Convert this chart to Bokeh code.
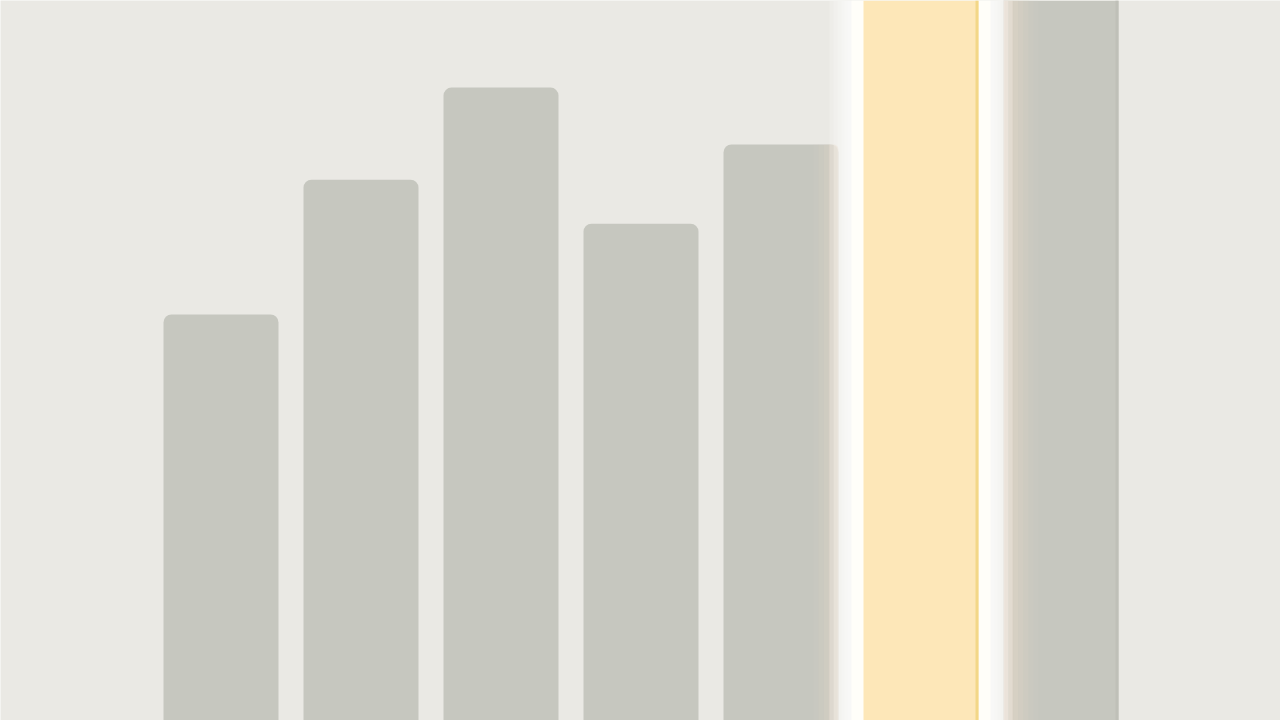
from bokeh.plotting import figure
from bokeh.embed import file_html
from bokeh.resources import INLINE

# Data
categories = ["A", "B", "C", "D", "E", "F", "G"]
values = [56.4, 75.1, 87.9, 69.0, 80.0, 112.0, 108.0]
highlight_index = 5

BG = "#EAE9E4"
BAR = "#C6C7BF"
YELLOW = "#FDE7B8"
YELLOW_EDGE = "#F3D787"
TINT = "#E4D7C7"

W, H = 1280, 720
PX = 1 / 140.0                      # one screen pixel in x data units
x_start = -220.5 * PX
x_end = x_start + W * PX
VPX = 1 / 7.2                       # one screen pixel in y data units
y_start = 0
y_end = H * VPX

p = figure(width=W, height=H, output_backend="svg", toolbar_location=None,
           x_range=(x_start, x_end), y_range=(y_start, y_end),
           min_border=0, background_fill_color=BG, border_fill_color=BG)
p.axis.visible = False
p.grid.visible = False
p.outline_line_color = None

xs = list(range(len(categories)))
bar_w = 115 * PX
radius = 8

# regular bars (short ones rounded, tall ones cut by the top edge)
for i, (x, v) in enumerate(zip(xs, values)):
    if i == highlight_index:
        continue
    r = radius if v < y_end else 0
    p.vbar(x=[x], top=[min(v, y_end + 2)], bottom=0, width=bar_w, fill_color=BAR,
           line_color=None, border_radius=(r, r, 0, 0))

# darker right edge on last bar
last = len(xs) - 1
p.vbar(x=[xs[last] + (57.5 - 1.5) * PX], top=[min(values[last], y_end + 2)], bottom=0,
       width=3 * PX, fill_color="#BFC0B8", line_color=None)

hx = xs[highlight_index]
ln, rn = highlight_index - 1, highlight_index + 1

# warm tint on the left neighbour's right edge
alphas_l = [0.7, 0.5, 0.32, 0.18, 0.08]
for k, a in enumerate(alphas_l):
    cx = xs[ln] + (57.5 - 2.5 - 5 * k) * PX
    p.vbar(x=[cx], top=[values[ln]], bottom=0, width=5 * PX, fill_color=TINT,
           fill_alpha=a, line_color=None,
           border_radius=(0, radius if k == 0 else 0, 0, 0))
# warm tint on the right neighbour's left edge
alphas_r = [0.85, 0.7, 0.55, 0.4, 0.28, 0.17, 0.08]
for k, a in enumerate(alphas_r):
    cx2 = xs[rn] - (57.5 - 2.5 - 5 * k) * PX
    p.vbar(x=[cx2], top=[min(values[rn], y_end + 2)], bottom=0, width=5 * PX,
           fill_color=TINT, fill_alpha=a, line_color=None)

# glow around highlight
for w in [34, 30, 26, 22, 19, 16]:
    p.vbar(x=[hx], top=[y_end + 2], bottom=0, width=(115 + 2 * w) * PX,
           fill_color="#FFFFFF", fill_alpha=0.2, line_color=None)
p.vbar(x=[hx], top=[y_end + 2], bottom=0, width=(115 + 2 * 12) * PX,
       fill_color="#FFFEF9", fill_alpha=1.0, line_color=None)

# highlighted bar
p.vbar(x=[hx], top=[min(values[highlight_index], y_end + 2)], bottom=0, width=bar_w,
       fill_color=YELLOW, line_color=None)
p.vbar(x=[hx + (57.5 - 1.5) * PX], top=[min(values[highlight_index], y_end + 2)], bottom=0,
       width=3 * PX, fill_color=YELLOW_EDGE, line_color=None)

html = file_html(p, INLINE)
html = html.replace("<body>", '<body style="margin:0;overflow:hidden;background:%s;">' % BG, 1)
open("out.html", "w").write(html)
